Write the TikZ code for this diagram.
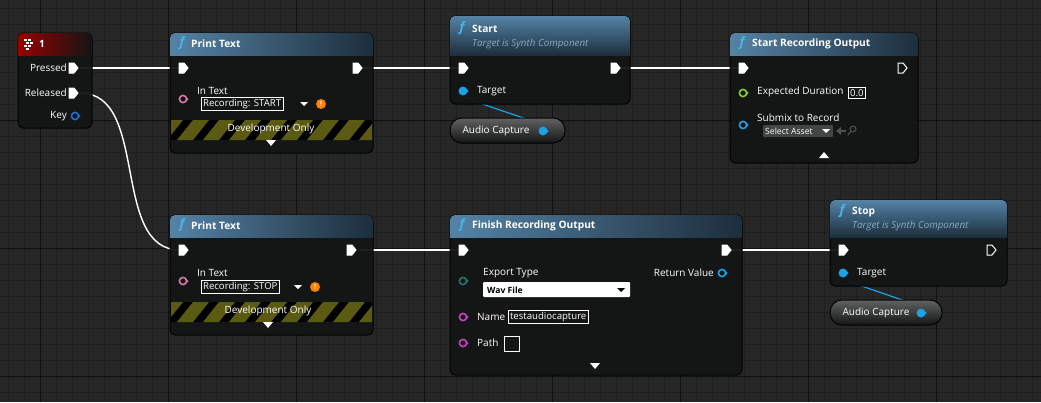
\documentclass[tikz,border=0pt]{standalone}
\usepackage{fontspec}
\setmainfont{Open Sans}
\usetikzlibrary{shapes.geometric}
\definecolor{bg}{HTML}{262626}
\definecolor{body}{HTML}{141515}
\definecolor{hdrA}{HTML}{5583A6}
\definecolor{hdrB}{HTML}{1D2E3C}
\definecolor{pinblue}{HTML}{1BA3E8}
\definecolor{keyblue}{HTML}{1C6FD6}
\definecolor{txtpink}{HTML}{D87AA8}
\definecolor{namepink}{HTML}{D23ACB}
\definecolor{green}{HTML}{8CD02A}
\definecolor{teal}{HTML}{1F7A6E}
\definecolor{hz}{HTML}{5A5A12}
\tikzset{
 nbody/.style={fill=body,draw=black,line width=1pt,rounded corners=5pt,opacity=.95},
 lbl/.style={text=white,font=\fontsize{10}{11}\selectfont,inner sep=0pt},
 ttl/.style={text=white,font=\bfseries\fontsize{10.2}{11}\selectfont,inner sep=0pt,anchor=west},
 sub/.style={text=hdrA!70!white,font=\itshape\fontsize{9.8}{11}\selectfont,inner sep=0pt,anchor=west},
 fsym/.style={text=pinblue!80!white,font=\itshape\bfseries\fontsize{13}{13}\selectfont,inner sep=0pt},
 valbox/.style={draw=white!80,line width=.6pt,text=white,font=\fontsize{9.6}{10}\selectfont,inner sep=1.8pt,anchor=west},
 wire/.style={line width=1.4pt,draw=white!75},
 bwire/.style={line width=1.2pt,draw=pinblue},
}
\newcommand{\execpin}[3][fill=white]{\path[#1,draw=white,line width=1pt] (#2-4,#3-5) -- (#2+1,#3-5) -- (#2+5,#3) -- (#2+1,#3+5) -- (#2-4,#3+5) -- cycle;}
\newcommand{\datapin}[4]{\fill[#1] (#2+5.5,#3) -- (#2+3.5,#3-2) -- (#2+3.5,#3+2) -- cycle; \draw[#1,line width=1.6pt,fill=#4] (#2,#3) circle (3.6);}
\newcommand{\header}[5]{% x1 y1 x2 y2 style
 \begin{scope}
 \clip[rounded corners=5pt] (#1,#2) rectangle (#3,#4+8);
 \shade[#5] (#1,#2) rectangle (#3,#4);
 \end{scope}}
\newcommand{\hazard}[4]{%
 \begin{scope}\clip (#1,#2) rectangle (#3,#4);
 \fill[black] (#1,#2) rectangle (#3,#4);
 \foreach \i in {0,...,8}{\fill[hz] (#1-20+\i*26,#4) -- (#1-4+\i*26,#4) -- (#1+12+\i*26,#2) -- (#1-4+\i*26,#2) -- cycle;}
 \end{scope}}
\begin{document}
\begin{tikzpicture}[x=1pt,y=-1pt]
\useasboundingbox (0,0) rectangle (1041,402);
\fill[bg] (0,0) rectangle (1041,402);
\foreach \x in {8,24,...,1041} \draw[black,line width=.4pt,opacity=.18] (\x,0) -- (\x,402);
\foreach \y in {8,24,...,402} \draw[black,line width=.4pt,opacity=.18] (0,\y) -- (1041,\y);
\foreach \x in {40,168,296,424,552,680,808,936} \draw[black,opacity=.45,line width=1pt] (\x,0) -- (\x,402);
\foreach \y in {120,248,376} \draw[black,opacity=.45,line width=1pt] (0,\y) -- (1041,\y);

% ---------- wires (behind) ----------
\coordinate (kP) at (80,68); \coordinate (kR) at (80,93);
\coordinate (p1i) at (180,68); \coordinate (p1o) at (360,68);
\coordinate (sti) at (460,68); \coordinate (sto) at (618,68);
\coordinate (sri) at (740,68);
\coordinate (p2i) at (180,250); \coordinate (p2o) at (360,250);
\coordinate (fi) at (460,250); \coordinate (fo) at (728,250);
\coordinate (spi) at (840,250);
\coordinate (stT) at (463,91); \coordinate (ac1) at (545,131);
\coordinate (spT) at (843,273); \coordinate (ac2) at (923,313);
\draw[wire] (kP) -- (p1i);
\draw[wire] (p1o) -- (sti);
\draw[wire] (sto) -- (sri);
\draw[wire] (kR) .. controls (150,93) and (110,250) .. (p2i);
\draw[wire] (p2o) -- (fi);
\draw[wire] (fo) -- (spi);
\draw[bwire] (ac1) .. controls (580,131) and (425,91) .. (stT);
\draw[bwire] (ac2) .. controls (958,313) and (805,273) .. (spT);

% ---------- Key node ----------
\fill[nbody] (18,33) rectangle (92,128);
\header{18}{33}{92}{55}{left color=red!60!black,right color=body}
\foreach \a/\b in {0/0,4/0,2/3,6/3,0/6,4/6,2/9}{\fill[white!85] (24+\a,39+\b) rectangle (27+\a,41+\b);}
\node[lbl,font=\bfseries\fontsize{10}{10}\selectfont] (kt) at (42,44) {1};
\node[lbl,anchor=east] (kpl) at (67,68) {Pressed}; \execpin{73}{68}
\node[lbl,anchor=east] (krl) at (67,93) {Released}; \execpin{73}{93}
\node[lbl,anchor=east] (kkl) at (67,116) {Key}; \datapin{keyblue}{75}{116}{body}

% ---------- Print Text 1 ----------
\fill[nbody] (170,33) rectangle (373,153);
\header{170}{33}{373}{55}{left color=hdrA,right color=hdrB}
\node[fsym] (p1f) at (182,43) {f}; \node[ttl] (p1t) at (191,44) {Print Text};
\execpin{183}{68} \execpin{357}{68}
\datapin{txtpink}{183}{99}{body}
\node[lbl,anchor=west] (p1it) at (197,91) {In Text};
\node[valbox] (p1v) at (201,104) {Recording: START};
\fill[white!70] (300,102) -- (308,102) -- (304,106) -- cycle;
\fill[orange] (321,104) circle (5); \node[lbl,font=\bfseries\fontsize{7}{7}\selectfont] at (321,104) {!};
\hazard{171}{120}{372}{140}
\node[lbl] (p1d) at (271,129) {Development Only};
\fill[white!80] (266,140) -- (276,140) -- (271,146) -- cycle;

% ---------- Start ----------
\fill[nbody] (450,16) rectangle (630,104);
\header{450}{16}{630}{55}{top color=hdrA,bottom color=hdrB}
\node[fsym] (sf) at (462,28) {f}; \node[ttl] (st) at (472,29) {Start};
\node[sub] (ss) at (472,44) {Target is Synth Component};
\execpin{463}{68} \execpin{615}{68}
\datapin{pinblue}{463}{91}{pinblue}
\node[lbl,anchor=west] (stg) at (477,91) {Target};

% ---------- Audio capture 1 ----------
\fill[nbody,rounded corners=12pt,top color=white!35!body,bottom color=body] (450,118) rectangle (565,143);
\node[lbl] (ac1l) at (496,131) {Audio Capture};
\datapin{pinblue}{543}{131}{pinblue}

% ---------- Start Recording Output ----------
\fill[nbody] (730,33) rectangle (918,163);
\header{730}{33}{918}{55}{left color=hdrA,right color=hdrB}
\node[fsym] (srf) at (742,43) {f}; \node[ttl] (srt) at (752,44) {Start Recording Output};
\execpin{743}{68} \execpin[fill=none]{902}{68}
\datapin{green}{743}{93}{body}
\node[lbl,anchor=west] (sre) at (757,92) {Expected Duration};
\node[valbox] (srv) at (848,93) {0.0};
\datapin{pinblue}{743}{125}{body}
\node[lbl,anchor=west] (srs) at (757,118) {Submix to Record};
\fill[white!20!body,rounded corners=1pt] (763,125) rectangle (833,137);
\node[lbl,anchor=west,text=white!50] (sra) at (765,131) {\fontsize{8.6}{9}\selectfont Select Asset};
\fill[white!50] (822,129) -- (830,129) -- (826,133) -- cycle;
\fill[white!25!body] (836,131) -- (841,127) -- (841,135) -- cycle; \fill[white!25!body] (840,130) rectangle (846,132);
\draw[white!25!body,line width=1pt] (853,129) circle (3) (851,131) -- (848,135);
\fill[white!80] (819,158) -- (829,158) -- (824,152) -- cycle;

% ---------- Print Text 2 ----------
\fill[nbody] (170,215) rectangle (373,335);
\header{170}{215}{373}{237}{left color=hdrA,right color=hdrB}
\node[fsym] (p2f) at (182,225) {f}; \node[ttl] (p2t) at (191,226) {Print Text};
\execpin{183}{250} \execpin{351}{250}
\datapin{txtpink}{183}{281}{body}
\node[lbl,anchor=west] (p2it) at (197,273) {In Text};
\node[valbox] (p2v) at (201,287) {Recording: STOP};
\fill[white!70] (294,285) -- (302,285) -- (298,289) -- cycle;
\fill[orange] (315,287) circle (5); \node[lbl,font=\bfseries\fontsize{7}{7}\selectfont] at (315,287) {!};
\hazard{171}{302}{372}{322}
\node[lbl] (p2d) at (268,311) {Development Only};
\fill[white!80] (263,322) -- (273,322) -- (268,328) -- cycle;

% ---------- Finish Recording Output ----------
\fill[nbody] (450,215) rectangle (742,375);
\header{450}{215}{742}{237}{left color=hdrA,right color=hdrB}
\node[fsym] (ff) at (462,225) {f}; \node[ttl] (ft) at (472,226) {Finish Recording Output};
\execpin{463}{250} \execpin{726}{250}
\datapin{teal}{463}{281}{body}
\node[lbl,anchor=west] (fe) at (483,273) {Export Type};
\fill[white!85,rounded corners=1pt] (483,282) rectangle (630,297);
\node[lbl,anchor=west,text=black] (fw) at (487,290) {\bfseries\fontsize{8.6}{9}\selectfont Wav File};
\fill[black] (617,288) -- (625,288) -- (621,292) -- cycle;
\node[lbl,anchor=east] (fr) at (714,273) {Return Value};
\datapin{pinblue}{722}{273}{body}
\datapin{namepink}{463}{317}{body}
\node[lbl,anchor=west] (fn) at (477,317) {Name};
\node[valbox] (fnv) at (508,317) {testaudiocapture};
\datapin{namepink}{463}{343}{body}
\node[lbl,anchor=west] (fp) at (477,343) {Path};
\draw[white,line width=.8pt] (504,336) rectangle (519,351);
\fill[white!80] (590,363) -- (600,363) -- (595,369) -- cycle;

% ---------- Stop ----------
\fill[nbody] (830,200) rectangle (1007,286);
\header{830}{200}{1007}{237}{top color=hdrA,bottom color=hdrB}
\node[fsym] (spf) at (842,211) {f}; \node[ttl] (spt) at (852,212) {Stop};
\node[sub] (sps) at (852,226) {Target is Synth Component};
\execpin{843}{250} \execpin[fill=none]{991}{250}
\datapin{pinblue}{843}{273}{pinblue}
\node[lbl,anchor=west] (spg) at (857,273) {Target};

% ---------- Audio capture 2 ----------
\fill[nbody,rounded corners=12pt,top color=white!35!body,bottom color=body] (830,300) rectangle (942,325);
\node[lbl] (ac2l) at (876,313) {Audio Capture};
\datapin{pinblue}{921}{313}{pinblue}
\end{tikzpicture}
\end{document}
